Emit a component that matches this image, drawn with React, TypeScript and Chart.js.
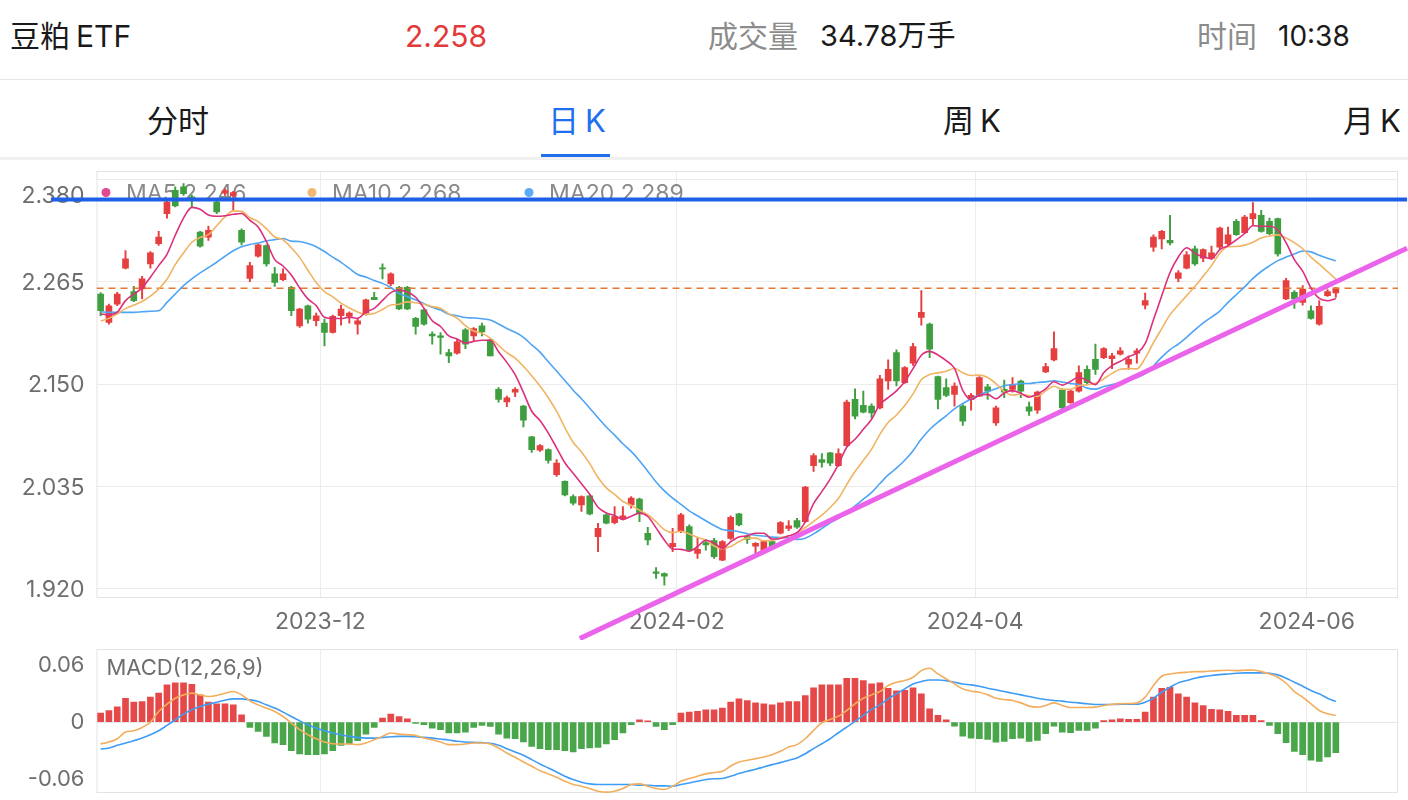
import React, { useEffect, useRef } from 'react';
import { Chart, registerables } from 'chart.js';

Chart.register(...registerables);

// ---------- data ----------
const opens = [
  2.2514, 2.2194, 2.2401, 2.2805, 2.2541, 2.2571, 2.2854, 2.3080, 2.3419, 2.3683,
  2.3721, 2.3610, 2.3212, 2.3155, 2.3551, 2.3650, 2.3619, 2.3231, 2.2691, 2.2940,
  2.3061, 2.2741, 2.2676, 2.2590, 2.2156, 2.2382, 2.2213, 2.2186, 2.2081, 2.2269,
  2.2262, 2.2175, 2.2299, 2.2477, 2.2808, 2.2627, 2.2590, 2.2590, 2.2239, 2.2337,
  2.2062, 2.2043, 2.1855, 2.1847, 2.2111, 2.2043, 2.2156, 2.1998, 2.1440, 2.1300,
  2.1410, 2.1251, 2.0905, 2.0754, 2.0761, 2.0479, 2.0403, 2.0233, 2.0139, 2.0241,
  1.9781, 2.0026, 1.9939, 1.9988, 2.0139, 2.0203, 1.9819, 1.9385, 1.9366, 1.9668,
  1.9838, 1.9894, 1.9593, 1.9713, 1.9736, 1.9517, 1.9762, 2.0037, 1.9781, 1.9675,
  1.9623, 1.9725, 1.9819, 1.9875, 1.9962, 1.9951, 2.0580, 2.0648, 2.0724, 2.0580,
  2.0806, 2.1327, 2.1259, 2.1251, 2.1232, 2.1534, 2.1855, 2.1515, 2.1734, 2.2250,
  2.2175, 2.1583, 2.1459, 2.1383, 2.1251, 2.1327, 2.1364, 2.1470, 2.1063, 2.1440,
  2.1440, 2.1534, 2.1244, 2.1206, 2.1636, 2.1772, 2.1432, 2.1289, 2.1421, 2.1666,
  2.1779, 2.1798, 2.1787, 2.1836, 2.1723, 2.1847, 2.2390, 2.3042, 2.3136, 2.3118,
  2.2691, 2.2805, 2.3023, 2.2918, 2.2918, 2.3042, 2.3080, 2.3332, 2.3204, 2.3363,
  2.3400, 2.3332, 2.3363, 2.2458, 2.2533, 2.2420, 2.2326, 2.2175, 2.2495, 2.2526,
];
const highs = [
  2.2530, 2.2401, 2.2533, 2.3004, 2.2601, 2.2714, 2.2993, 2.3219, 2.3570, 2.3721,
  2.3758, 2.3630, 2.3219, 2.3280, 2.3570, 2.3700, 2.3672, 2.3249, 2.2872, 2.3080,
  2.3068, 2.2816, 2.2797, 2.2601, 2.2352, 2.2390, 2.2299, 2.2232, 2.2277, 2.2390,
  2.2314, 2.2239, 2.2458, 2.2533, 2.2854, 2.2752, 2.2601, 2.2601, 2.2251, 2.2345,
  2.2088, 2.2081, 2.1892, 2.2005, 2.2126, 2.2137, 2.2186, 2.2005, 2.1459, 2.1364,
  2.1459, 2.1259, 2.0912, 2.0818, 2.0769, 2.0648, 2.0411, 2.0252, 2.0241, 2.0252,
  1.9932, 2.0037, 2.0120, 2.0120, 2.0233, 2.0215, 1.9887, 1.9434, 1.9374, 1.9875,
  2.0045, 1.9913, 1.9762, 1.9751, 1.9762, 1.9736, 2.0015, 2.0045, 1.9800, 1.9713,
  1.9736, 1.9743, 1.9951, 1.9962, 1.9988, 2.0347, 2.0716, 2.0716, 2.0731, 2.0769,
  2.1319, 2.1447, 2.1421, 2.1278, 2.1598, 2.1772, 2.1885, 2.1696, 2.1960, 2.2552,
  2.2186, 2.1591, 2.1560, 2.1515, 2.1270, 2.1395, 2.1583, 2.1496, 2.1251, 2.1545,
  2.1572, 2.1545, 2.1297, 2.1421, 2.1734, 2.2088, 2.1447, 2.1432, 2.1704, 2.1704,
  2.1949, 2.1911, 2.1847, 2.1911, 2.1817, 2.1900, 2.2526, 2.3182, 2.3231, 2.3400,
  2.2778, 2.2993, 2.3053, 2.3023, 2.3053, 2.3268, 2.3268, 2.3355, 2.3400, 2.3543,
  2.3457, 2.3370, 2.3370, 2.2691, 2.2552, 2.2609, 2.2382, 2.2439, 2.2563, 2.2590,
];
const lows = [
  2.2269, 2.2175, 2.2382, 2.2797, 2.2428, 2.2458, 2.2805, 2.3061, 2.3370, 2.3494,
  2.3626, 2.3490, 2.3042, 2.3118, 2.3419, 2.3626, 2.3457, 2.3068, 2.2654, 2.2929,
  2.2827, 2.2601, 2.2665, 2.2269, 2.2137, 2.2186, 2.2156, 2.1930, 2.2073, 2.2164,
  2.2186, 2.2062, 2.2277, 2.2450, 2.2684, 2.2609, 2.2337, 2.2337, 2.2062, 2.2164,
  2.1949, 2.1836, 2.1741, 2.1836, 2.1900, 2.1986, 2.2043, 2.1817, 2.1297, 2.1244,
  2.1357, 2.1018, 2.0731, 2.0742, 2.0610, 2.0460, 2.0241, 2.0139, 2.0064, 2.0026,
  1.9612, 1.9924, 1.9924, 1.9970, 2.0101, 1.9951, 1.9687, 1.9310, 1.9234, 1.9612,
  1.9826, 1.9623, 1.9536, 1.9630, 1.9536, 1.9510, 1.9751, 1.9902, 1.9706, 1.9562,
  1.9612, 1.9649, 1.9811, 1.9849, 1.9875, 1.9939, 2.0516, 2.0565, 2.0580, 2.0573,
  2.0799, 2.1108, 2.1176, 2.1119, 2.1221, 2.1440, 2.1478, 2.1508, 2.1711, 2.2164,
  2.1798, 2.1221, 2.1357, 2.1251, 2.1033, 2.1206, 2.1357, 2.1327, 2.1033, 2.1346,
  2.1410, 2.1346, 2.1146, 2.1168, 2.1628, 2.1760, 2.1221, 2.1282, 2.1410, 2.1496,
  2.1609, 2.1787, 2.1674, 2.1824, 2.1666, 2.1734, 2.2345, 2.2993, 2.3023, 2.3068,
  2.2654, 2.2797, 2.2835, 2.2880, 2.2903, 2.3023, 2.3068, 2.3174, 2.3193, 2.3295,
  2.3212, 2.3182, 2.2940, 2.2450, 2.2352, 2.2390, 2.2232, 2.2164, 2.2488, 2.2477,
];
const closes = [
  2.2326, 2.2382, 2.2514, 2.2910, 2.2439, 2.2684, 2.2978, 2.3155, 2.3551, 2.3506,
  2.3645, 2.3580, 2.3053, 2.3231, 2.3438, 2.3679, 2.3657, 2.3099, 2.2835, 2.3068,
  2.2854, 2.2646, 2.2741, 2.2326, 2.2345, 2.2232, 2.2269, 2.2081, 2.2262, 2.2345,
  2.2299, 2.2213, 2.2450, 2.2450, 2.2797, 2.2741, 2.2345, 2.2345, 2.2149, 2.2175,
  2.2043, 2.2024, 2.1817, 2.1975, 2.1949, 2.2126, 2.2088, 2.1817, 2.1327, 2.1346,
  2.1440, 2.1093, 2.0761, 2.0806, 2.0641, 2.0610, 2.0252, 2.0158, 2.0233, 2.0037,
  1.9875, 1.9932, 2.0007, 2.0015, 2.0215, 2.0045, 1.9743, 1.9366, 1.9336, 1.9706,
  2.0026, 1.9630, 1.9638, 1.9687, 1.9555, 1.9725, 2.0000, 1.9913, 1.9751, 1.9706,
  1.9725, 1.9668, 1.9939, 1.9902, 1.9887, 2.0339, 2.0693, 2.0618, 2.0610, 2.0716,
  2.1297, 2.1138, 2.1183, 2.1176, 2.1560, 2.1666, 2.1534, 2.1685, 2.1922, 2.2307,
  2.1892, 2.1327, 2.1372, 2.1478, 2.1082, 2.1372, 2.1572, 2.1421, 2.1232, 2.1410,
  2.1496, 2.1421, 2.1195, 2.1410, 2.1696, 2.1900, 2.1232, 2.1421, 2.1628, 2.1515,
  2.1666, 2.1900, 2.1817, 2.1873, 2.1779, 2.1873, 2.2439, 2.3155, 2.3219, 2.3091,
  2.2752, 2.2955, 2.2854, 2.3016, 2.2978, 2.3257, 2.3182, 2.3182, 2.3381, 2.3419,
  2.3219, 2.3193, 2.2967, 2.2665, 2.2458, 2.2571, 2.2239, 2.2375, 2.2541, 2.2580,
];
const ma5 = [
  2.2290, 2.2280, 2.2310, 2.2440, 2.2514, 2.2584, 2.2704, 2.2834, 2.2962, 2.3176,
  2.3370, 2.3490, 2.3468, 2.3404, 2.3390, 2.3396, 2.3412, 2.3422, 2.3344, 2.3270,
  2.3104, 2.2902, 2.2830, 2.2728, 2.2584, 2.2460, 2.2384, 2.2252, 2.2238, 2.2238,
  2.2252, 2.2240, 2.2314, 2.2352, 2.2442, 2.2530, 2.2558, 2.2538, 2.2478, 2.2354,
  2.2214, 2.2148, 2.2042, 2.2008, 2.1962, 2.1980, 2.1994, 2.1994, 2.1864, 2.1744,
  2.1606, 2.1406, 2.1194, 2.1090, 2.0948, 2.0782, 2.0614, 2.0494, 2.0378, 2.0258,
  2.0112, 2.0048, 2.0018, 1.9976, 2.0012, 2.0046, 2.0008, 1.9880, 1.9744, 1.9642,
  1.9638, 1.9616, 1.9670, 1.9740, 1.9710, 1.9650, 1.9724, 1.9778, 1.9790, 1.9820,
  1.9820, 1.9754, 1.9760, 1.9790, 1.9826, 1.9948, 2.0152, 2.0288, 2.0430, 2.0596,
  2.0788, 2.0878, 2.0990, 2.1104, 2.1272, 2.1346, 2.1424, 2.1526, 2.1674, 2.1824,
  2.1868, 2.1828, 2.1764, 2.1676, 2.1430, 2.1326, 2.1374, 2.1384, 2.1334, 2.1400,
  2.1426, 2.1396, 2.1352, 2.1388, 2.1446, 2.1526, 2.1488, 2.1532, 2.1576, 2.1540,
  2.1494, 2.1628, 2.1708, 2.1756, 2.1808, 2.1848, 2.1956, 2.2224, 2.2494, 2.2756,
  2.2932, 2.3036, 2.2974, 2.2934, 2.2912, 2.3014, 2.3058, 2.3124, 2.3196, 2.3284,
  2.3276, 2.3278, 2.3236, 2.3094, 2.2902, 2.2772, 2.2582, 2.2464, 2.2438, 2.2462,
];
const ma10 = [
  2.2210, 2.2240, 2.2290, 2.2350, 2.2390, 2.2430, 2.2490, 2.2570, 2.2680, 2.2845,
  2.2977, 2.3097, 2.3151, 2.3183, 2.3283, 2.3383, 2.3451, 2.3445, 2.3374, 2.3330,
  2.3250, 2.3157, 2.3126, 2.3036, 2.2927, 2.2782, 2.2643, 2.2541, 2.2483, 2.2411,
  2.2356, 2.2312, 2.2283, 2.2295, 2.2340, 2.2391, 2.2399, 2.2426, 2.2415, 2.2398,
  2.2372, 2.2353, 2.2290, 2.2243, 2.2158, 2.2097, 2.2071, 2.2018, 2.1936, 2.1853,
  2.1793, 2.1700, 2.1594, 2.1477, 2.1346, 2.1194, 2.1010, 2.0844, 2.0734, 2.0603,
  2.0447, 2.0331, 2.0256, 2.0177, 2.0135, 2.0079, 2.0028, 1.9949, 1.9860, 1.9827,
  1.9842, 1.9812, 1.9775, 1.9742, 1.9676, 1.9644, 1.9670, 1.9724, 1.9765, 1.9765,
  1.9735, 1.9739, 1.9769, 1.9790, 1.9823, 1.9884, 1.9953, 2.0024, 2.0110, 2.0211,
  2.0368, 2.0515, 2.0639, 2.0767, 2.0934, 2.1067, 2.1151, 2.1258, 2.1389, 2.1548,
  2.1607, 2.1626, 2.1645, 2.1675, 2.1627, 2.1597, 2.1601, 2.1574, 2.1505, 2.1415,
  2.1376, 2.1385, 2.1368, 2.1361, 2.1423, 2.1476, 2.1442, 2.1442, 2.1482, 2.1493,
  2.1510, 2.1558, 2.1620, 2.1666, 2.1674, 2.1671, 2.1792, 2.1966, 2.2125, 2.2282,
  2.2390, 2.2496, 2.2599, 2.2714, 2.2834, 2.2973, 2.3047, 2.3049, 2.3065, 2.3098,
  2.3145, 2.3168, 2.3180, 2.3145, 2.3093, 2.3024, 2.2930, 2.2850, 2.2766, 2.2682,
];
const ma20 = [
  2.2314, 2.2307, 2.2307, 2.2307, 2.2307, 2.2314, 2.2320, 2.2326, 2.2420, 2.2514,
  2.2609, 2.2684, 2.2752, 2.2812, 2.2872, 2.2940, 2.3001, 2.3046, 2.3072, 2.3088,
  2.3114, 2.3127, 2.3139, 2.3110, 2.3105, 2.3083, 2.3047, 2.2993, 2.2929, 2.2871,
  2.2803, 2.2735, 2.2705, 2.2666, 2.2634, 2.2587, 2.2521, 2.2484, 2.2449, 2.2405,
  2.2364, 2.2333, 2.2287, 2.2269, 2.2249, 2.2244, 2.2235, 2.2222, 2.2176, 2.2126,
  2.2083, 2.2027, 2.1942, 2.1860, 2.1752, 2.1646, 2.1541, 2.1431, 2.1335, 2.1228,
  2.1120, 2.1016, 2.0925, 2.0827, 2.0741, 2.0637, 2.0519, 2.0397, 2.0297, 2.0215,
  2.0145, 2.0072, 2.0016, 1.9960, 1.9906, 1.9862, 1.9849, 1.9837, 1.9813, 1.9796,
  1.9789, 1.9776, 1.9772, 1.9766, 1.9750, 1.9764, 1.9812, 1.9874, 1.9938, 1.9988,
  2.0052, 2.0127, 2.0204, 2.0279, 2.0379, 2.0476, 2.0552, 2.0641, 2.0750, 2.0880,
  2.0988, 2.1071, 2.1142, 2.1221, 2.1281, 2.1332, 2.1376, 2.1416, 2.1447, 2.1482,
  2.1492, 2.1506, 2.1507, 2.1518, 2.1525, 2.1537, 2.1522, 2.1508, 2.1494, 2.1454,
  2.1443, 2.1472, 2.1494, 2.1514, 2.1549, 2.1574, 2.1617, 2.1704, 2.1804, 2.1888,
  2.1950, 2.2027, 2.2110, 2.2190, 2.2254, 2.2322, 2.2420, 2.2508, 2.2595, 2.2690,
  2.2768, 2.2832, 2.2890, 2.2930, 2.2964, 2.2999, 2.2989, 2.2950, 2.2916, 2.2890,
];
const difLine = [
  -0.0230, -0.0209, -0.0175, -0.0105, -0.0091, -0.0056, 0.0000, 0.0112, 0.0188, 0.0251,
  0.0286, 0.0304, 0.0286, 0.0269, 0.0279, 0.0304, 0.0321, 0.0286, 0.0223, 0.0181,
  0.0147, 0.0112, 0.0059, -0.0010, -0.0080, -0.0133, -0.0175, -0.0209, -0.0227, -0.0230,
  -0.0230, -0.0237, -0.0220, -0.0185, -0.0150, -0.0115, -0.0126, -0.0133, -0.0140, -0.0168,
  -0.0185, -0.0209, -0.0237, -0.0237, -0.0230, -0.0220, -0.0220, -0.0230, -0.0272, -0.0325,
  -0.0370, -0.0419, -0.0464, -0.0510, -0.0544, -0.0579, -0.0621, -0.0656, -0.0674, -0.0698,
  -0.0726, -0.0736, -0.0726, -0.0698, -0.0656, -0.0649, -0.0674, -0.0698, -0.0708, -0.0674,
  -0.0621, -0.0593, -0.0569, -0.0544, -0.0530, -0.0517, -0.0461, -0.0419, -0.0401, -0.0384,
  -0.0366, -0.0342, -0.0307, -0.0262, -0.0237, -0.0175, -0.0087, -0.0007, 0.0028, 0.0063,
  0.0122, 0.0192, 0.0251, 0.0286, 0.0321, 0.0384, 0.0419, 0.0436, 0.0471, 0.0541,
  0.0565, 0.0506, 0.0454, 0.0401, 0.0349, 0.0325, 0.0314, 0.0286, 0.0251, 0.0237,
  0.0227, 0.0202, 0.0168, 0.0157, 0.0175, 0.0202, 0.0175, 0.0154, 0.0154, 0.0154,
  0.0157, 0.0175, 0.0188, 0.0192, 0.0195, 0.0202, 0.0262, 0.0384, 0.0482, 0.0506,
  0.0517, 0.0524, 0.0530, 0.0530, 0.0537, 0.0541, 0.0544, 0.0541, 0.0544, 0.0548,
  0.0530, 0.0506, 0.0471, 0.0408, 0.0321, 0.0262, 0.0192, 0.0122, 0.0087, 0.0070,
];
const deaLine = [
  -0.0283, -0.0272, -0.0244, -0.0220, -0.0195, -0.0168, -0.0133, -0.0091, -0.0035, 0.0024,
  0.0084, 0.0129, 0.0164, 0.0188, 0.0209, 0.0230, 0.0244, 0.0244, 0.0234, 0.0216,
  0.0181, 0.0147, 0.0105, 0.0059, 0.0014, -0.0028, -0.0063, -0.0091, -0.0115, -0.0133,
  -0.0150, -0.0161, -0.0168, -0.0168, -0.0161, -0.0154, -0.0150, -0.0150, -0.0154, -0.0161,
  -0.0168, -0.0178, -0.0188, -0.0202, -0.0209, -0.0213, -0.0216, -0.0223, -0.0244, -0.0279,
  -0.0314, -0.0349, -0.0394, -0.0440, -0.0482, -0.0524, -0.0569, -0.0604, -0.0632, -0.0649,
  -0.0656, -0.0656, -0.0656, -0.0656, -0.0656, -0.0663, -0.0663, -0.0670, -0.0670, -0.0674,
  -0.0656, -0.0639, -0.0621, -0.0604, -0.0595, -0.0593, -0.0569, -0.0541, -0.0517, -0.0496,
  -0.0471, -0.0447, -0.0426, -0.0401, -0.0377, -0.0332, -0.0279, -0.0227, -0.0175, -0.0112,
  -0.0052, 0.0007, 0.0070, 0.0133, 0.0181, 0.0244, 0.0297, 0.0349, 0.0401, 0.0426,
  0.0443, 0.0443, 0.0436, 0.0419, 0.0401, 0.0391, 0.0377, 0.0356, 0.0339, 0.0321,
  0.0304, 0.0286, 0.0269, 0.0251, 0.0237, 0.0227, 0.0220, 0.0209, 0.0202, 0.0192,
  0.0185, 0.0185, 0.0185, 0.0188, 0.0188, 0.0188, 0.0209, 0.0251, 0.0314, 0.0366,
  0.0412, 0.0436, 0.0461, 0.0478, 0.0489, 0.0499, 0.0506, 0.0513, 0.0517, 0.0517,
  0.0517, 0.0513, 0.0496, 0.0461, 0.0419, 0.0377, 0.0332, 0.0297, 0.0251, 0.0216,
];
const macdBars = [
  0.0094, 0.0122, 0.0160, 0.0251, 0.0209, 0.0216, 0.0262, 0.0304, 0.0391, 0.0412,
  0.0412, 0.0398, 0.0286, 0.0209, 0.0192, 0.0192, 0.0181, 0.0077, -0.0056, -0.0098,
  -0.0150, -0.0220, -0.0237, -0.0300, -0.0335, -0.0342, -0.0342, -0.0335, -0.0300, -0.0244,
  -0.0230, -0.0195, -0.0126, -0.0056, 0.0042, 0.0084, 0.0059, 0.0035, -0.0014, -0.0028,
  -0.0063, -0.0080, -0.0115, -0.0115, -0.0105, -0.0056, -0.0035, -0.0045, -0.0126, -0.0168,
  -0.0175, -0.0209, -0.0255, -0.0279, -0.0290, -0.0290, -0.0300, -0.0314, -0.0279, -0.0272,
  -0.0265, -0.0230, -0.0185, -0.0115, -0.0028, 0.0024, 0.0014, -0.0045, -0.0080, -0.0028,
  0.0094, 0.0105, 0.0112, 0.0129, 0.0129, 0.0147, 0.0209, 0.0244, 0.0227, 0.0202,
  0.0192, 0.0181, 0.0202, 0.0216, 0.0216, 0.0279, 0.0359, 0.0391, 0.0391, 0.0391,
  0.0461, 0.0461, 0.0436, 0.0401, 0.0412, 0.0356, 0.0328, 0.0335, 0.0359, 0.0297,
  0.0140, 0.0070, 0.0025, -0.0042, -0.0147, -0.0168, -0.0175, -0.0182, -0.0210, -0.0202,
  -0.0175, -0.0168, -0.0202, -0.0192, -0.0122, -0.0042, -0.0105, -0.0112, -0.0087, -0.0087,
  -0.0063, 0.0017, 0.0024, 0.0035, 0.0028, 0.0028, 0.0105, 0.0262, 0.0356, 0.0366,
  0.0297, 0.0262, 0.0202, 0.0174, 0.0133, 0.0129, 0.0112, 0.0070, 0.0070, 0.0070,
  0.0017, -0.0035, -0.0122, -0.0216, -0.0307, -0.0342, -0.0401, -0.0412, -0.0366, -0.0321,
];

const priceTicks = [1.92, 2.035, 2.15, 2.265, 2.38];
const macdTicks = [-0.06, 0, 0.06];
const macdTickLabels = ['-0.06', '0', '0.06'];
const monthTickPositions = [26.5, 69.5, 105.5, 145.5];
const monthTickLabels = ['2023-12', '2024-02', '2024-04', '2024-06'];
const legendLabels = ['MA5 2.246', 'MA10 2.268', 'MA20 2.289'];
const lastPrice = 2.258;
const resistanceX = [-6, 157.6];
const resistanceLevel = 2.358;
const trendX = [57.8, 157.6];
const trendY = [1.8633, 2.3031];
const slotRange = [-0.5, 156.5];

// ---------- styles ----------
const FONT = "Inter, 'Noto Sans CJK SC', sans-serif";
const RED = '#e5403f';
const GREEN = '#3f9f40';
const MA_COLORS = ['#dc2f7c', '#f0b463', '#4ea4f5'];
const LEGEND_DOTS = ['#e0498f', '#f2b873', '#5cabf6'];
const LEGEND_X = [106, 312, 529];
const GRID = '#ececec';
const LABEL = '#6e6e6e';

const idx = closes.map((_, i) => i);
const candleColors = idx.map((i) => (closes[i] >= opens[i] ? RED : GREEN));

function monthAxis(showLabels: boolean, height: number) {
  return {
    type: 'linear',
    min: slotRange[0],
    max: slotRange[1],
    offset: false,
    afterBuildTicks: (s: any) => {
      s.ticks = monthTickPositions.map((v) => ({ value: v }));
    },
    afterFit: (s: any) => {
      s.height = height;
    },
    grid: { color: GRID, drawTicks: false, offset: false, lineWidth: 1 },
    border: { display: false },
    ticks: {
      display: showLabels,
      autoSkip: false,
      maxRotation: 0,
      padding: 10,
      color: LABEL,
      font: { size: 23, family: FONT },
      callback: (_v: any, i: number) => monthTickLabels[i],
    },
  };
}

function drawBox(ctx: any, a: any) {
  ctx.strokeStyle = '#e3e3e3';
  ctx.lineWidth = 1;
  ctx.strokeRect(a.left + 0.5, a.top + 0.5, a.right - a.left - 1, a.bottom - a.top - 1);
}

const mainDecor = {
  id: 'mainDecor',
  beforeDatasetsDraw(chart: any) {
    const { ctx, chartArea: a, scales } = chart;
    ctx.save();
    drawBox(ctx, a);
    ctx.font = `23px ${FONT}`;
    ctx.fillStyle = LABEL;
    ctx.textAlign = 'right';
    ctx.textBaseline = 'middle';
    priceTicks.forEach((v) => {
      const y = scales.y.getPixelForValue(v);
      ctx.fillText(v.toFixed(3), a.left - 12, Math.max(y + 1.5, a.top + 25));
    });
    ctx.textAlign = 'left';
    legendLabels.forEach((t, i) => {
      ctx.beginPath();
      ctx.fillStyle = LEGEND_DOTS[i];
      ctx.arc(LEGEND_X[i], a.top + 21.5, 4.5, 0, Math.PI * 2);
      ctx.fill();
      ctx.fillStyle = '#8a8a8a';
      ctx.fillText(t, LEGEND_X[i] + 20, a.top + 23);
    });
    ctx.restore();
  },
};

const macdDecor = {
  id: 'macdDecor',
  beforeDatasetsDraw(chart: any) {
    const { ctx, chartArea: a, scales } = chart;
    ctx.save();
    drawBox(ctx, a);
    ctx.font = `22px ${FONT}`;
    ctx.fillStyle = LABEL;
    ctx.textAlign = 'right';
    ctx.textBaseline = 'middle';
    macdTicks.forEach((v, i) => {
      const y = scales.y.getPixelForValue(v);
      ctx.fillText(macdTickLabels[i], a.left - 12, y);
    });
    ctx.textAlign = 'left';
    ctx.fillText('MACD(12,26,9)', a.left + 10, a.top + 19);
    ctx.restore();
  },
};

function lineDs(values: number[], color: string, order: number, width = 1.6) {
  return {
    type: 'line',
    data: values.map((y, x) => ({ x, y })),
    borderColor: color,
    borderWidth: width,
    pointRadius: 0,
    cubicInterpolationMode: 'monotone',
    order,
  };
}

function mainConfig(): any {
  return {
    type: 'bar',
    data: {
      datasets: [
        {
          type: 'line',
          data: trendX.map((x, i) => ({ x, y: trendY[i] })),
          borderColor: '#ea63ea',
          borderWidth: 5,
          pointRadius: 0,
          clip: false,
          order: 0,
        },
        {
          type: 'line',
          data: resistanceX.map((x) => ({ x, y: resistanceLevel })),
          borderColor: '#1f5fe8',
          borderWidth: 4,
          pointRadius: 0,
          clip: false,
          order: 1,
        },
        lineDs(ma5, MA_COLORS[0], 2),
        lineDs(ma10, MA_COLORS[1], 3),
        lineDs(ma20, MA_COLORS[2], 4),
        {
          type: 'line',
          data: slotRange.map((x) => ({ x, y: lastPrice })),
          borderColor: '#e57a35',
          borderWidth: 1.5,
          borderDash: [7, 5],
          pointRadius: 0,
          order: 5,
        },
        {
          type: 'bar',
          data: idx.map((i) => ({ x: i, y: [opens[i], closes[i]] })),
          backgroundColor: candleColors,
          barThickness: 6,
          minBarLength: 1,
          grouped: false,
          order: 6,
        },
        {
          type: 'bar',
          data: idx.map((i) => ({ x: i, y: [lows[i], highs[i]] })),
          backgroundColor: candleColors,
          barThickness: 1.3,
          grouped: false,
          order: 7,
        },
      ],
    },
    options: {
      responsive: false,
      animation: false,
      devicePixelRatio: 1,
      events: [],
      layout: { padding: { left: 8, right: 10, top: 11, bottom: 0 } },
      plugins: { legend: { display: false }, tooltip: { enabled: false } },
      scales: {
        x: monthAxis(true, 42),
        y: {
          type: 'linear',
          min: 1.909,
          max: 2.39,
          afterBuildTicks: (s: any) => {
            s.ticks = priceTicks.map((v) => ({ value: v }));
          },
          afterFit: (s: any) => {
            s.width = 88.5;
          },
          grid: { color: GRID, drawTicks: false },
          border: { display: false },
          ticks: { display: false },
        },
      },
    },
    plugins: [mainDecor],
  };
}

function macdConfig(): any {
  return {
    type: 'bar',
    data: {
      datasets: [
        lineDs(difLine, '#f2ae5c', 0, 1.6),
        lineDs(deaLine, '#3f9cf5', 1, 1.6),
        {
          type: 'bar',
          data: macdBars.map((y, x) => ({ x, y })),
          backgroundColor: macdBars.map((v) => (v >= 0 ? '#e54848' : '#4aa64b')),
          barThickness: 6,
          grouped: false,
          order: 2,
        },
      ],
    },
    options: {
      responsive: false,
      animation: false,
      devicePixelRatio: 1,
      events: [],
      layout: { padding: { left: 8, right: 10, top: 9, bottom: 7 } },
      plugins: { legend: { display: false }, tooltip: { enabled: false } },
      scales: {
        x: monthAxis(false, 0),
        y: {
          type: 'linear',
          min: -0.0745,
          max: 0.0768,
          afterBuildTicks: (s: any) => {
            s.ticks = macdTicks.map((v) => ({ value: v }));
          },
          afterFit: (s: any) => {
            s.width = 88.5;
          },
          grid: {
            color: (c: any) => (c.tick && c.tick.value === 0 ? '#e6e6e6' : 'rgba(0,0,0,0)'),
            drawTicks: false,
          },
          border: { display: false },
          ticks: { display: false },
        },
      },
    },
    plugins: [macdDecor],
  };
}

function Text(props: { left: number; top: number; size: number; color: string; children: React.ReactNode; center?: boolean }) {
  const { left, top, size, color, children, center } = props;
  return (
    <div
      style={{
        position: 'absolute',
        left: center ? left - 100 : left,
        width: center ? 200 : undefined,
        textAlign: center ? 'center' : 'left',
        top,
        fontSize: size,
        lineHeight: '40px',
        color,
        whiteSpace: 'nowrap',
      }}
    >
      {children}
    </div>
  );
}

const gap = { marginLeft: 6 };

export default function App() {
  const mainRef = useRef<HTMLCanvasElement>(null);
  const macdRef = useRef<HTMLCanvasElement>(null);

  useEffect(() => {
    const c1 = new Chart(mainRef.current as HTMLCanvasElement, mainConfig());
    const c2 = new Chart(macdRef.current as HTMLCanvasElement, macdConfig());
    return () => {
      c1.destroy();
      c2.destroy();
    };
  }, []);

  return (
    <div
      style={{
        position: 'fixed',
        left: 0,
        top: 0,
        width: 1408,
        height: 800,
        background: '#ffffff',
        overflow: 'hidden',
        fontFamily: FONT,
      }}
    >
      <Text left={10} top={16} size={30} color="#1a1a1a">豆粕<span style={gap}>ETF</span></Text>
      <Text left={405} top={16} size={30} color="#e23a3a">2.258</Text>
      <Text left={708} top={16} size={30} color="#8c8c8c">成交量</Text>
      <Text left={820} top={16} size={29} color="#1a1a1a">34.78万手</Text>
      <Text left={1197} top={16} size={30} color="#8c8c8c">时间</Text>
      <Text left={1278} top={16} size={28} color="#1a1a1a">10:38</Text>
      <div style={{ position: 'absolute', left: 0, top: 79, width: 1408, height: 1, background: '#e6e6e6' }} />
      <Text left={178} top={101} size={31} color="#1a1a1a" center>分时</Text>
      <Text left={577} top={101} size={31} color="#1f6fef" center>日<span style={gap}>K</span></Text>
      <Text left={972} top={101} size={31} color="#1a1a1a" center>周<span style={gap}>K</span></Text>
      <Text left={1372} top={101} size={31} color="#1a1a1a" center>月<span style={gap}>K</span></Text>
      <div style={{ position: 'absolute', left: 541, top: 154, width: 69, height: 3, background: '#1f6fef' }} />
      <div style={{ position: 'absolute', left: 0, top: 157, width: 1408, height: 3, background: '#f0f0f0' }} />
      <canvas
        ref={mainRef}
        width={1408}
        height={480}
        style={{ position: 'absolute', left: 0, top: 160, width: 1408, height: 480 }}
      />
      <canvas
        ref={macdRef}
        width={1408}
        height={160}
        style={{ position: 'absolute', left: 0, top: 640, width: 1408, height: 160 }}
      />
    </div>
  );
}
